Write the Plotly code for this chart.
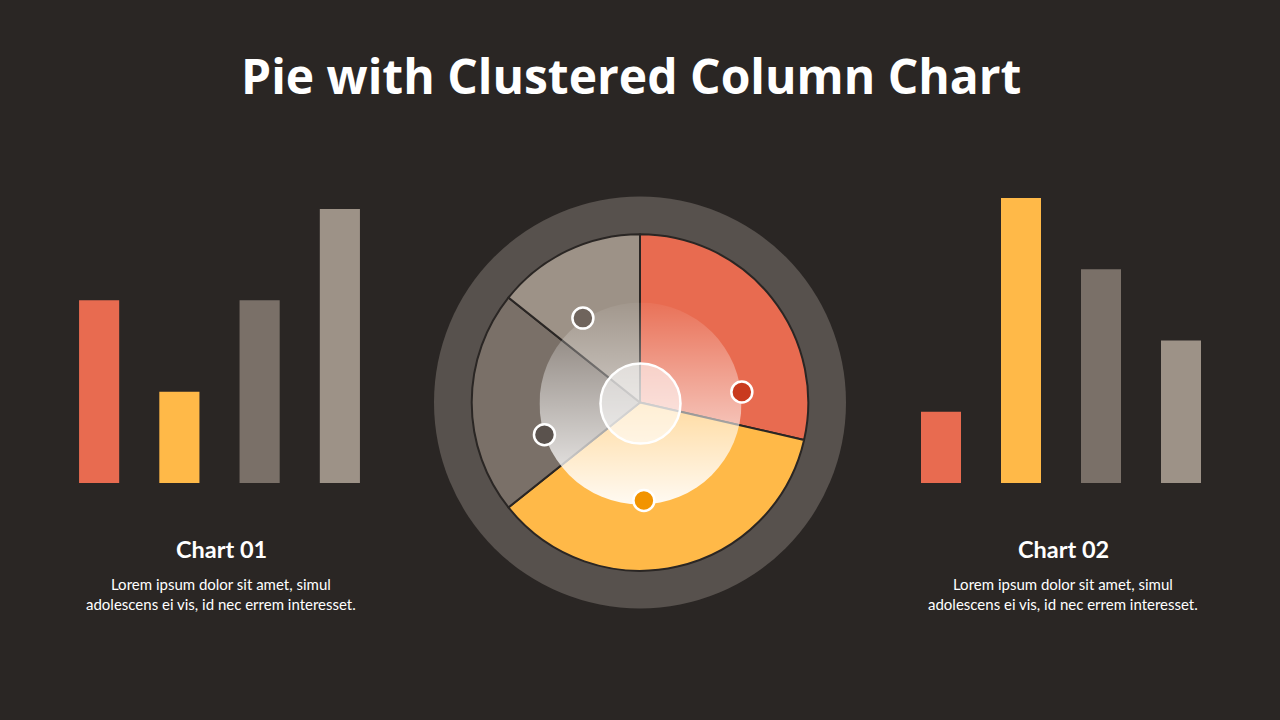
import base64
import math
import plotly.graph_objects as go

W, H = 1280, 720
BG = "#2a2624"

# data
categories = ["A", "B", "C", "D"]
chart01_values = [40, 20, 40, 60]
chart02_values = [10, 40, 30, 20]
pie_labels = ["Red", "Yellow", "Brown", "Taupe"]
pie_values = [40, 50, 30, 20]
colors = ["#e86b50", "#ffb948", "#7a7068", "#9d9287"]

# decorative dots sitting on the inner glass circle (angle deg, radius px, fill)
dot_angles = [6.5, -88, 198, 124]
dot_radii = [102, 97, 101, 103]
dot_colors = ["#c93a1e", "#f29400", "#5a524d", "#6f645c"]

lorem = "Lorem ipsum dolor sit amet, simul<br>adolescens ei vis, id nec errem interesset."


def px(x, y):
    """pixel coords -> paper coords"""
    return x / W, 1 - y / H


def circle(cx, cy, r, **kw):
    x0, y1 = px(cx - r, cy - r)
    x1, y0 = px(cx + r, cy + r)
    return dict(type="circle", xref="paper", yref="paper",
                x0=x0, x1=x1, y0=y0, y1=y1, **kw)


fig = go.Figure()

fig.add_trace(go.Bar(x=categories, y=chart01_values, marker_color=colors,
                     marker_line_width=0, xaxis="x", yaxis="y", hoverinfo="skip"))
fig.add_trace(go.Bar(x=categories, y=chart02_values, marker_color=colors,
                     marker_line_width=0, xaxis="x2", yaxis="y2", hoverinfo="skip"))

# pie in the middle
cx, cy, pr = 640, 402.5, 168.3
fig.add_trace(go.Pie(
    labels=pie_labels, values=pie_values, sort=False, direction="clockwise",
    rotation=0, textinfo="none", hoverinfo="skip",
    marker=dict(colors=colors, line=dict(color=BG, width=2)),
    domain=dict(x=[(cx - pr) / W, (cx + pr) / W],
                y=[1 - (cy + pr) / H, 1 - (cy - pr) / H]),
))

base = 483
axis_off = dict(visible=False, showgrid=False, zeroline=False, fixedrange=True)
fig.update_layout(
    width=W, height=H,
    paper_bgcolor=BG, plot_bgcolor=BG,
    margin=dict(l=0, r=0, t=0, b=0),
    showlegend=False,
    bargap=0.5,
    xaxis=dict(domain=[59 / W, 380 / W], range=[-0.5, 3.5], **axis_off),
    yaxis=dict(domain=[1 - base / H, 1 - 209 / H], range=[0, 60], **axis_off),
    xaxis2=dict(domain=[901 / W, 1221 / W], range=[-0.5, 3.5], anchor="y2", **axis_off),
    yaxis2=dict(domain=[1 - base / H, 1 - 198 / H], range=[0, 40], anchor="x2", **axis_off),
)

# outer dark ring behind the pie
shapes = [circle(640, 402.5, 206, fillcolor="#57514d", line_width=0, layer="below")]

# glass circle with vertical white gradient (svg image)
gcx, gcy, gr = 640.5, 403.5, 101
svg = (
    '<svg xmlns="http://www.w3.org/2000/svg" width="200" height="200" viewBox="0 0 200 200">'
    '<defs><linearGradient id="g" x1="0" y1="0" x2="0" y2="1">'
    '<stop offset="0" stop-color="#ffffff" stop-opacity="0.05"/>'
    '<stop offset="1" stop-color="#ffffff" stop-opacity="0.93"/>'
    '</linearGradient></defs>'
    '<circle cx="100" cy="100" r="100" fill="url(#g)"/></svg>'
)
src = "data:image/svg+xml;base64," + base64.b64encode(svg.encode()).decode()
ix, iy = px(gcx - gr, gcy - gr)
fig.add_layout_image(dict(source=src, xref="paper", yref="paper", x=ix, y=iy,
                          sizex=2 * gr / W, sizey=2 * gr / H, sizing="stretch",
                          xanchor="left", yanchor="top", layer="above"))

# center ring
shapes.append(circle(640.5, 403.5, 40, fillcolor="rgba(255,255,255,0.55)",
                     line=dict(color="white", width=2.5), layer="above"))

for a, r, c in zip(dot_angles, dot_radii, dot_colors):
    dx = gcx + r * math.cos(math.radians(a))
    dy = gcy - r * math.sin(math.radians(a))
    shapes.append(circle(dx, dy, 10.5, fillcolor=c,
                         line=dict(color="white", width=2.5), layer="above"))

fig.update_layout(shapes=shapes)

# texts
txt = dict(xref="paper", yref="paper", showarrow=False,
           xanchor="center", yanchor="middle")
fig.add_annotation(text="<b>Pie with Clustered Column Chart</b>", x=631 / W, y=1 - 76 / H,
                   font=dict(family="Open Sans", size=48, color="white"), **txt)
for xc, name in [(221, "Chart 01"), (1063, "Chart 02")]:
    fig.add_annotation(text="<b>" + name + "</b>", x=xc / W, y=1 - 549 / H,
                       font=dict(family="Lato", size=23.5, color="white"), **txt)
    fig.add_annotation(text=lorem, x=xc / W, y=1 - 593.5 / H, align="center",
                       font=dict(family="Lato", size=15, color="white"), **txt)

fig.write_html("out.html", config={"displayModeBar": False},
               post_script="document.body.style.margin='0';")
